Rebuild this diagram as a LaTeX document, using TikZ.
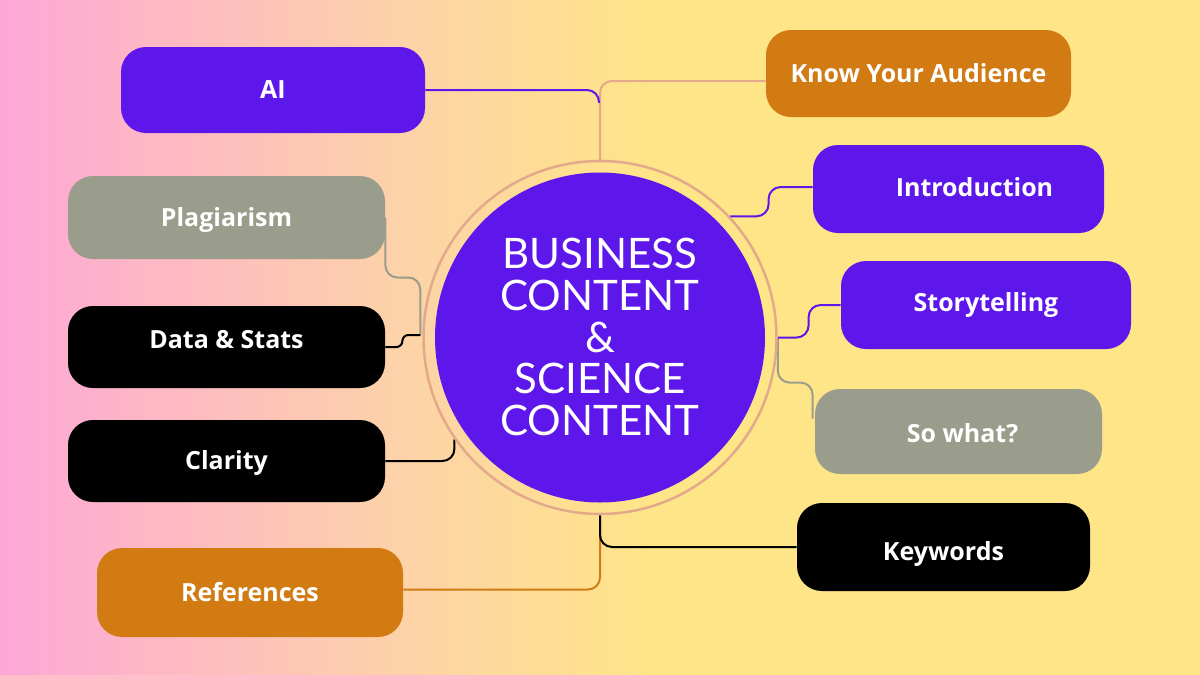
\documentclass[tikz,border=0pt]{standalone}
\usepackage{fontspec}
\setmainfont{Open Sans}
\newfontfamily\titlefont{Lato}
\usetikzlibrary{calc}
\definecolor{vio}{RGB}{94,23,235}
\definecolor{org}{RGB}{210,123,19}
\definecolor{gry}{RGB}{154,157,140}
\definecolor{ringc}{RGB}{226,169,139}
\definecolor{bgpink}{RGB}{253,167,215}
\definecolor{bgpeach}{RGB}{253,210,168}
\definecolor{bgyel}{RGB}{254,229,136}
\pgfdeclarelayer{bglayer}
\pgfdeclarelayer{lines}
\pgfsetlayers{bglayer,lines,main}
\begin{document}
\begin{tikzpicture}[x=0.5pt,y=-0.5pt,
  box/.style={rounded corners=12.5pt, inner sep=0pt, text=white,
    text height=8.9pt, text depth=0pt,
    font=\bfseries\fontsize{12.5}{14}\selectfont},
  ln/.style={line width=1pt, rounded corners=6pt}]
\useasboundingbox (0,0) rectangle (1200,675);
\begin{pgfonlayer}{bglayer}
\fill[left color=bgpink, right color=bgpeach] (0,0) rectangle (400,675);
\fill[left color=bgpeach, right color=bgyel] (399,0) rectangle (651,675);
\fill[bgyel] (650,0) rectangle (1200,675);
\end{pgfonlayer}
% ring and core
\node[circle, draw=ringc, line width=1.25pt, minimum size=176.5pt, inner sep=0pt] (ring) at (600,337.5) {};
\node[circle, fill=vio, minimum size=165pt, inner sep=0pt] (core) at (600,337.5) {};
\node[text=white, align=center, font=\titlefont\fontsize{21}{20.9}\selectfont] (title) at (600,337) {BUSINESS\\CONTENT\\\&\\SCIENCE\\CONTENT};
% boxes
\node[box, fill=vio, minimum width=152pt, minimum height=43pt] (ai) at (273,90) {AI};
\node[box, fill=org, minimum width=152.5pt, minimum height=43.5pt] (kya) at (918.5,73.5) {Know Your Audience};
\node[box, fill=vio, minimum width=145.5pt, minimum height=44pt] (intro) at (958.5,189) {\hspace*{16pt}\raisebox{0.5pt}{Introduction}};
\node[box, fill=vio, minimum width=145pt, minimum height=44pt] (story) at (986,305) {\raisebox{1pt}{Storytelling}};
\node[box, fill=gry, minimum width=143.5pt, minimum height=42.5pt] (sowhat) at (958.5,431.5) {\hspace*{4pt}\raisebox{-1.25pt}{So what?}};
\node[box, fill=black, minimum width=146.5pt, minimum height=44pt] (kw) at (943.5,547) {\raisebox{-2.5pt}{Keywords}};
\node[box, fill=gry, minimum width=158.5pt, minimum height=41.5pt] (plag) at (226.5,217.5) {Plagiarism};
\node[box, fill=black, minimum width=158.5pt, minimum height=41pt] (data) at (226.5,347) {\raisebox{3.5pt}{Data \& Stats}};
\node[box, fill=black, minimum width=158.5pt, minimum height=41pt] (clar) at (226.5,461) {Clarity};
\node[box, fill=org, minimum width=153pt, minimum height=44.5pt] (refs) at (250,592.5) {References};
% connectors
\begin{pgfonlayer}{lines}
\draw[ln, ringc] ($(kya.west)+(0,7.5)$) -| (ring.north);
\draw[ln, vio] (ai.east) -| ($(ring.north)+(-1,-57)$);
\draw[ln, vio] (ring.43.3) -| ($(intro.west)+(-44,-2)$) -- ($(intro.west)+(0,-2)$);
\draw[ln, gry] (ring.east) |- ($(sowhat.north west)+(-2,-6)$) -- ($(sowhat.north west)+(-2,30)$);
\draw[ln, vio] (ring.east) -| ($(story.west)+(-32,0)$) -- (story.west);
\draw[ln, gry] (plag.east) |- ($(ring.west)+(-2,-60)$) -- ($(ring.west)+(-2,-2.5)$);
\draw[line width=1pt, rounded corners=3pt, black] (data.east) -| ($(data.east)+(17,-12)$) -- ($(ring.west)+(-2,-2.5)$);
\draw[ln, black] (clar.east) -| (ring.215.6);
\draw[ln, org] (ring.south) |- ($(refs.east)+(0,-3)$);
\draw[ln, black] (ring.south) |- (kw.west);
\end{pgfonlayer}
\end{tikzpicture}
\end{document}
